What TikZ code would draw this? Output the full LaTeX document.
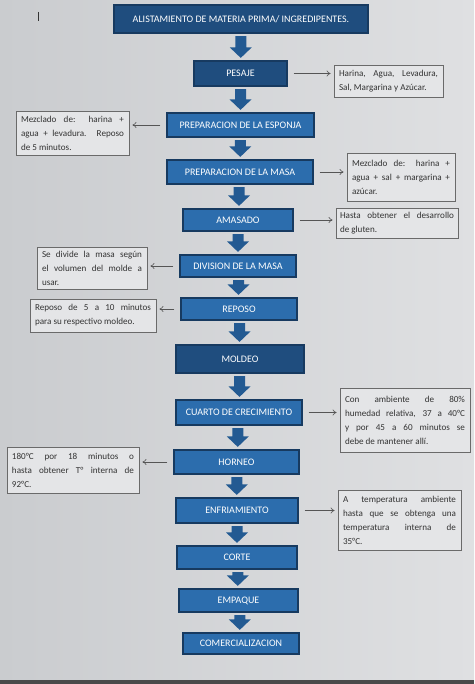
\documentclass[tikz,border=0pt]{standalone}
\usepackage{fontspec}
\setmainfont{Carlito}
\usetikzlibrary{calc,arrows.meta}
\definecolor{bgL}{HTML}{CACCCF}
\definecolor{bgR}{HTML}{DFE0E2}
\definecolor{navy}{HTML}{1F4D7E}
\definecolor{midblue}{HTML}{2C6DAD}
\definecolor{edgeblue}{HTML}{173A60}
\definecolor{sidefill}{HTML}{E4E5E7}
\definecolor{sideedge}{HTML}{6A6A6A}
\definecolor{sidetext}{HTML}{333333}
\definecolor{arrowblue}{HTML}{235A92}
\definecolor{thinarrow}{HTML}{555555}
\definecolor{bottomstrip}{HTML}{4A4A4A}
\hyphenpenalty=10000
\emergencystretch=3em
\tikzset{
  mainbox/.style={draw=edgeblue, line width=1.2pt, fill=midblue, text=white,
    font=\fontsize{10}{12}\selectfont, inner sep=2pt},
  darkbox/.style={mainbox, fill=navy},
  sidebox/.style={draw=sideedge, line width=0.7pt, fill=sidefill, text=sidetext,
    font=\fontsize{9.1}{14}\selectfont, inner xsep=5pt, inner ysep=2pt, align=justify},
  sidearrow/.style={draw=thinarrow, line width=0.6pt, -{To[length=4pt,width=6pt]},
    shorten <=6pt, shorten >=3pt},
  blockfill/.style={fill=arrowblue}
}
\newcommand\flowarrow[2]{%
  \fill[blockfill] let \p1=(#1.south), \p2=(#2.north), \n1={(\x1+\x2)/2} in
    (\n1-5.5pt,\y1-2.5pt) -- (\n1+5.5pt,\y1-2.5pt) -- (\n1+5.5pt,\y2+13pt) -- (\n1+11pt,\y2+13pt)
    -- (\n1,\y2+2.5pt) -- (\n1-11pt,\y2+13pt) -- (\n1-5.5pt,\y2+13pt) -- cycle;}
\begin{document}
\begin{tikzpicture}[x=1pt,y=-1pt]
\useasboundingbox (0,0) rectangle (474,684);
\shade[left color=bgL, right color=bgR] (0,0) rectangle (474,684);
\fill[bottomstrip] (0,680) rectangle (474,684);
\draw[line width=1pt, black!80] (38,12) -- (38,21);

% main chain
\node[darkbox, minimum width=254pt, minimum height=28pt] (alist) at (241,19) {ALISTAMIENTO DE MATERIA PRIMA/ INGREDIPENTES.};
\node[darkbox, minimum width=93pt, minimum height=25pt] (pesaje) at (240.5,73.5) {PESAJE};
\node[mainbox, minimum width=147pt, minimum height=24pt] (esponja) at (240.5,125) {PREPARACION DE LA ESPONJA};
\node[mainbox, minimum width=146pt, minimum height=24pt] (masa) at (240,172) {PREPARACION DE LA MASA};
\node[mainbox, minimum width=110pt, minimum height=22pt] (amasado) at (238,220) {AMASADO};
\node[mainbox, minimum width=116pt, minimum height=22pt] (division) at (238,266) {DIVISION DE LA MASA};
\node[mainbox, minimum width=116pt, minimum height=22pt] (reposo) at (239,309) {REPOSO};
\node[darkbox, minimum width=128pt, minimum height=28pt] (moldeo) at (240,359) {MOLDEO};
\node[mainbox, minimum width=126pt, minimum height=25pt] (cuarto) at (239,412.5) {CUARTO DE CRECIMIENTO};
\node[mainbox, minimum width=125pt, minimum height=24pt] (horneo) at (236.5,462) {HORNEO};
\node[mainbox, minimum width=122pt, minimum height=25pt] (enfria) at (237,510.5) {ENFRIAMIENTO};
\node[mainbox, minimum width=120pt, minimum height=23pt] (corte) at (237,557.5) {CORTE};
\node[mainbox, minimum width=119pt, minimum height=23pt] (empaque) at (238.5,600.5) {EMPAQUE};
\node[mainbox, minimum width=116pt, minimum height=21pt] (comerc) at (241,643.5) {COMERCIALIZACION};

\flowarrow{alist}{pesaje}
\flowarrow{pesaje}{esponja}
\flowarrow{esponja}{masa}
\flowarrow{masa}{amasado}
\flowarrow{amasado}{division}
\flowarrow{division}{reposo}
\flowarrow{reposo}{moldeo}
\flowarrow{moldeo}{cuarto}
\flowarrow{cuarto}{horneo}
\flowarrow{horneo}{enfria}
\flowarrow{enfria}{corte}
\flowarrow{corte}{empaque}
\flowarrow{empaque}{comerc}

% side notes
\node[sidebox, text width=99pt, minimum height=32pt] (s1) at (388.5,81) {Harina, Agua, Levadura,\linebreak Sal, Margarina y Azúcar.};
\node[sidebox, text width=103pt, minimum height=44pt] (s2) at (72.5,133) {Mezclado de: harina +\linebreak agua + levadura. Reposo\linebreak de 5 minutos.};
\node[sidebox, text width=98pt, minimum height=48pt] (s3) at (401,177) {Mezclado de: harina +\linebreak agua + sal + margarina +\linebreak azúcar.};
\node[sidebox, text width=114pt, minimum height=30pt, inner xsep=4pt] (s4) at (397,223) {Hasta obtener el desarrollo\linebreak de gluten.};
\node[sidebox, text width=100pt, minimum height=42pt] (s5) at (92,268) {Se divide la masa según\linebreak el volumen del molde a\linebreak usar.};
\node[sidebox, text width=116pt, minimum height=33pt] (s6) at (93,315.5) {Reposo de 5 a 10 minutos\linebreak para su respectivo moldeo.};
\node[sidebox, text width=120pt, minimum height=64pt] (s7) at (405,420) {Con ambiente de 80\%\linebreak humedad relativa, 37 a 40°C\linebreak y por 45 a 60 minutos se\linebreak debe de mantener allí.};
\node[sidebox, text width=122pt, minimum height=46pt] (s8) at (73,470) {180°C por 18 minutos o\linebreak hasta obtener T° interna de\linebreak 92°C.};
\node[sidebox, text width=113pt, minimum height=60pt] (s9) at (399.5,520.5) {A temperatura ambiente\linebreak hasta que se obtenga una\linebreak temperatura interna de\linebreak 35°C.};

\draw[sidearrow] (pesaje.east) -- (pesaje.east -| s1.west);
\draw[sidearrow] (esponja.west) -- (esponja.west -| s2.east);
\draw[sidearrow] (masa.east) -- (masa.east -| s3.west);
\draw[sidearrow] (amasado.east) -- (amasado.east -| s4.west);
\draw[sidearrow] (division.west) -- (division.west -| s5.east);
\draw[sidearrow] (reposo.west) -- (reposo.west -| s6.east);
\draw[sidearrow] (cuarto.east) -- (cuarto.east -| s7.west);
\draw[sidearrow] (horneo.west) -- (horneo.west -| s8.east);
\draw[sidearrow] (enfria.east) -- (enfria.east -| s9.west);
\end{tikzpicture}
\end{document}
